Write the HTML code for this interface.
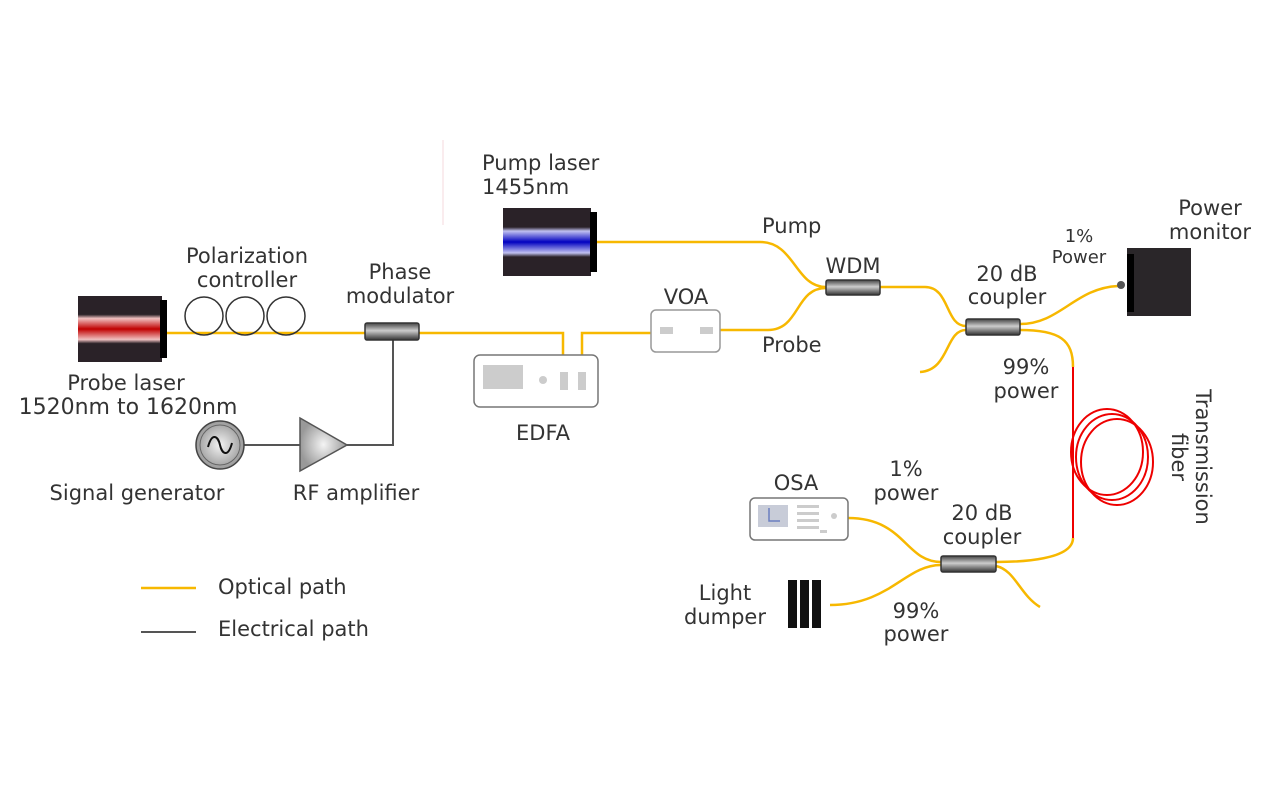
<!DOCTYPE html>
<html><head><meta charset="utf-8"><style>
html,body{margin:0;padding:0;background:#fff;width:1280px;height:810px;overflow:hidden}
svg text{font-family:"DejaVu Sans","Liberation Sans",sans-serif;fill:#333;font-size:21px}
</style></head><body>
<svg width="1280" height="810" viewBox="0 0 1280 810" xmlns="http://www.w3.org/2000/svg">
<defs>
<linearGradient id="cg" x1="0" y1="0" x2="0" y2="1"><stop offset="0" stop-color="#444"/><stop offset="0.45" stop-color="#ccc"/><stop offset="1" stop-color="#333"/></linearGradient>
<linearGradient id="red" x1="0" y1="0" x2="0" y2="1"><stop offset="0" stop-color="#2a2228"/><stop offset="0.28" stop-color="#2a2228"/><stop offset="0.34" stop-color="#f0c0c0"/><stop offset="0.5" stop-color="#c00000"/><stop offset="0.66" stop-color="#f0c0c0"/><stop offset="0.72" stop-color="#2a2228"/><stop offset="1" stop-color="#2a2228"/></linearGradient>
<linearGradient id="blue" x1="0" y1="0" x2="0" y2="1"><stop offset="0" stop-color="#2a2228"/><stop offset="0.28" stop-color="#2a2228"/><stop offset="0.34" stop-color="#c0c0f0"/><stop offset="0.5" stop-color="#0000c0"/><stop offset="0.66" stop-color="#c0c0f0"/><stop offset="0.72" stop-color="#2a2228"/><stop offset="1" stop-color="#2a2228"/></linearGradient>
<radialGradient id="rg"><stop offset="0" stop-color="#f4f4f4"/><stop offset="1" stop-color="#999"/></radialGradient>
</defs>
<line x1="443" y1="140" x2="443" y2="225" stroke="#f4d8dc" stroke-width="1"/>
<g stroke="#555" stroke-width="2" fill="none">
<path d="M244 445 H300 M347 445 H393 V340"/>
<line x1="141" y1="632" x2="196" y2="632"/>
</g>
<g stroke="#f7b800" stroke-width="2.5" fill="none">
<path d="M167 333 H563 V375"/>
<path d="M582 375 V333 H660"/>
<path d="M713 330 H768 C800 330 795 288 826 288"/>
<path d="M592 242 H760 C795 242 795 287 826 287"/>
<path d="M880 287 H925 C950 287 945 326 966 326"/>
<path d="M966 330 C945 330 950 370 920 372"/>
<path d="M1020 324 C1060 324 1075 288 1118 286"/>
<path d="M1020 330 C1060 330 1073 340 1073 367"/>
<path d="M1073 538 C1073 560 1020 562 996 562"/>
<path d="M848 518 C905 518 905 562 941 562"/>
<path d="M941 565 C905 565 890 605 830 605"/>
<path d="M996 566 C1015 570 1020 595 1040 607"/>
<line x1="141" y1="588" x2="196" y2="588"/>
</g>
<g stroke="#e00" stroke-width="2" fill="none">
<line x1="1073" y1="367" x2="1073" y2="538"/>
<ellipse cx="1107" cy="452" rx="36" ry="43"/>
<ellipse cx="1112" cy="457" rx="36" ry="43"/>
<ellipse cx="1117" cy="462" rx="36" ry="43"/>
</g>
<rect x="78" y="296" width="84" height="66" fill="url(#red)"/>
<rect x="160" y="300" width="7" height="58" fill="#000"/>
<rect x="503" y="208" width="88" height="68" fill="url(#blue)"/>
<rect x="590" y="212" width="7" height="60" fill="#000"/>
<g fill="none" stroke="#333" stroke-width="1.5">
<circle cx="204" cy="316" r="19"/><circle cx="245" cy="316" r="19"/><circle cx="286" cy="316" r="19"/>
</g>
<g stroke="#333" stroke-width="1.5" fill="url(#cg)">
<rect x="365" y="323" width="54" height="17" rx="2"/>
<rect x="826" y="280" width="54" height="15" rx="2"/>
<rect x="966" y="319" width="54" height="16" rx="2"/>
<rect x="941" y="556" width="55" height="16" rx="2"/>
</g>
<rect x="474" y="355" width="124" height="52" rx="6" fill="#fff" stroke="#777" stroke-width="1.5"/>
<rect x="483" y="365" width="40" height="24" fill="#ccc"/>
<circle cx="543" cy="380" r="4" fill="#ccc"/>
<rect x="560" y="372" width="8" height="18" fill="#ccc"/>
<rect x="578" y="372" width="8" height="18" fill="#ccc"/>
<rect x="651" y="310" width="69" height="42" rx="5" fill="#fff" stroke="#999" stroke-width="1.5"/>
<rect x="660" y="327" width="13" height="7" fill="#ccc"/>
<rect x="700" y="327" width="13" height="7" fill="#ccc"/>
<rect x="1127" y="248" width="64" height="68" fill="#2a2629"/>
<rect x="1127" y="254" width="7" height="58" fill="#000"/>
<circle cx="1121" cy="285" r="4" fill="#555"/>
<circle cx="220" cy="445" r="24" fill="url(#rg)" stroke="#444" stroke-width="1.5"/>
<circle cx="220" cy="445" r="20" fill="none" stroke="#666" stroke-width="1"/>
<path d="M208 447 C212 432 218 436 220 445 C222 454 228 458 232 443" fill="none" stroke="#111" stroke-width="2"/>
<polygon points="300,418 347,445 300,471" fill="url(#rg)" stroke="#555" stroke-width="1.5"/>
<rect x="750" y="498" width="98" height="42" rx="5" fill="#fff" stroke="#777" stroke-width="1.5"/>
<rect x="758" y="505" width="30" height="22" fill="#c8ccd8"/>
<path d="M769 508 V521 H780" stroke="#6a7fc0" stroke-width="1.5" fill="none"/>
<g fill="#ccc"><rect x="797" y="505" width="22" height="3"/><rect x="797" y="512" width="22" height="3"/><rect x="797" y="519" width="22" height="3"/><rect x="797" y="526" width="22" height="3"/><rect x="820" y="530" width="7" height="3"/><circle cx="834" cy="516" r="3"/></g>
<g fill="#111"><rect x="788" y="580" width="9" height="48"/><rect x="800" y="580" width="9" height="48"/><rect x="812" y="580" width="9" height="48"/></g>
<text x="482" y="170">Pump laser</text>
<text x="482" y="194">1455nm</text>
<text x="247" y="263" text-anchor="middle">Polarization</text>
<text x="247" y="287" text-anchor="middle">controller</text>
<text x="400" y="279" text-anchor="middle">Phase</text>
<text x="400" y="303" text-anchor="middle">modulator</text>
<text x="126" y="390" text-anchor="middle">Probe laser</text>
<text x="128" y="414" text-anchor="middle" style="font-size:22px">1520nm to 1620nm</text>
<text x="137" y="500" text-anchor="middle">Signal generator</text>
<text x="356" y="500" text-anchor="middle">RF amplifier</text>
<text x="543" y="440" text-anchor="middle">EDFA</text>
<text x="686" y="304" text-anchor="middle">VOA</text>
<text x="762" y="233">Pump</text>
<text x="762" y="352">Probe</text>
<text x="853" y="273" text-anchor="middle">WDM</text>
<text x="1007" y="281" text-anchor="middle">20 dB</text>
<text x="1007" y="304" text-anchor="middle">coupler</text>
<text x="1079" y="242" text-anchor="middle" style="font-size:18px">1%</text>
<text x="1079" y="263" text-anchor="middle" style="font-size:18px">Power</text>
<text x="1210" y="215" text-anchor="middle">Power</text>
<text x="1210" y="239" text-anchor="middle">monitor</text>
<text x="1026" y="374" text-anchor="middle">99%</text>
<text x="1026" y="398" text-anchor="middle">power</text>
<text transform="translate(1196,457) rotate(90)" text-anchor="middle">Transmission</text>
<text transform="translate(1172,457) rotate(90)" text-anchor="middle">fiber</text>
<text x="796" y="490" text-anchor="middle">OSA</text>
<text x="906" y="476" text-anchor="middle">1%</text>
<text x="906" y="500" text-anchor="middle">power</text>
<text x="982" y="520" text-anchor="middle">20 dB</text>
<text x="982" y="544" text-anchor="middle">coupler</text>
<text x="725" y="600" text-anchor="middle">Light</text>
<text x="725" y="624" text-anchor="middle">dumper</text>
<text x="916" y="618" text-anchor="middle">99%</text>
<text x="916" y="641" text-anchor="middle">power</text>
<text x="218" y="594">Optical path</text>
<text x="218" y="636">Electrical path</text>
</svg>
</body></html>
